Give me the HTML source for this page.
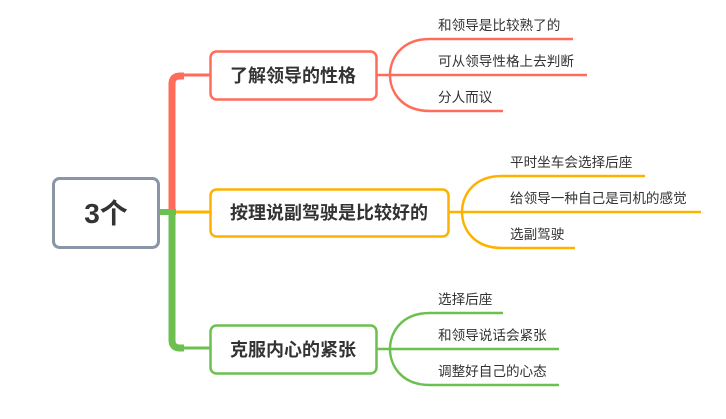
<!DOCTYPE html>
<html><head><meta charset="utf-8"><style>
body{margin:0;background:#fff;width:726px;height:414px;overflow:hidden}
svg text{font-family:"Liberation Sans","Noto Sans CJK SC",sans-serif;fill:#333}
</style></head><body>
<svg width="726" height="414" viewBox="0 0 726 414">
<g fill="none" stroke-linecap="butt">
<!-- trunk -->
<path d="M172 212 V84 Q172 76 180 76 H184" stroke="#ff6d5a" stroke-width="7"/>
<path d="M182 75 H210" stroke="#ff6d5a" stroke-width="3"/>
<path d="M172 212 V340 Q172 348 180 348 H184" stroke="#6cc04f" stroke-width="7"/>
<path d="M182 348 H210" stroke="#6cc04f" stroke-width="3"/>
<path d="M159 212 H176" stroke="#6cc04f" stroke-width="6"/>
<path d="M176 212 H210" stroke="#ffb100" stroke-width="3"/>
<g stroke="#ff6d5a" stroke-width="2.5">
<path d="M377 75 H587"/>
<path d="M573 39 H430 C400 39 390 60 390 75 C390 90 400 111 430 111 H503"/>
</g>
<g stroke="#ffb100" stroke-width="2.5">
<path d="M449 212 H701"/>
<path d="M645 176 H502 C472 176 462 197 462 212 C462 227 472 248 502 248 H575"/>
</g>
<g stroke="#6cc04f" stroke-width="2.5">
<path d="M377 349 H559"/>
<path d="M503 313 H430 C400 313 390 334 390 349 C390 364 400 385 430 385 H559"/>
</g>
<rect x="53.5" y="178.5" width="105" height="69" rx="6" fill="#fff" stroke="#8a96a8" stroke-width="3"/>
<rect x="210.5" y="51.5" width="166" height="48" rx="6" fill="#fff" stroke="#ff6d5a" stroke-width="2.5"/>
<rect x="210.5" y="189.5" width="238" height="47" rx="6" fill="#fff" stroke="#ffb100" stroke-width="2.5"/>
<rect x="210.5" y="325.5" width="166" height="48" rx="6" fill="#fff" stroke="#6cc04f" stroke-width="2.5"/>
</g>
<text x="106" y="223" font-size="28" font-weight="bold" text-anchor="middle">3个</text>
<g font-size="18" font-weight="bold" text-anchor="middle">
<text x="293" y="82">了解领导的性格</text>
<text x="329" y="219">按理说副驾驶是比较好的</text>
<text x="293" y="356">克服内心的紧张</text>
</g>
<g font-size="13.6">
<text x="438" y="30">和领导是比较熟了的</text>
<text x="438" y="66">可从领导性格上去判断</text>
<text x="438" y="102">分人而议</text>
<text x="510" y="167">平时坐车会选择后座</text>
<text x="510" y="203">给领导一种自己是司机的感觉</text>
<text x="510" y="239">选副驾驶</text>
<text x="438" y="304">选择后座</text>
<text x="438" y="340">和领导说话会紧张</text>
<text x="438" y="376">调整好自己的心态</text>
</g>
</svg>
</body></html>
